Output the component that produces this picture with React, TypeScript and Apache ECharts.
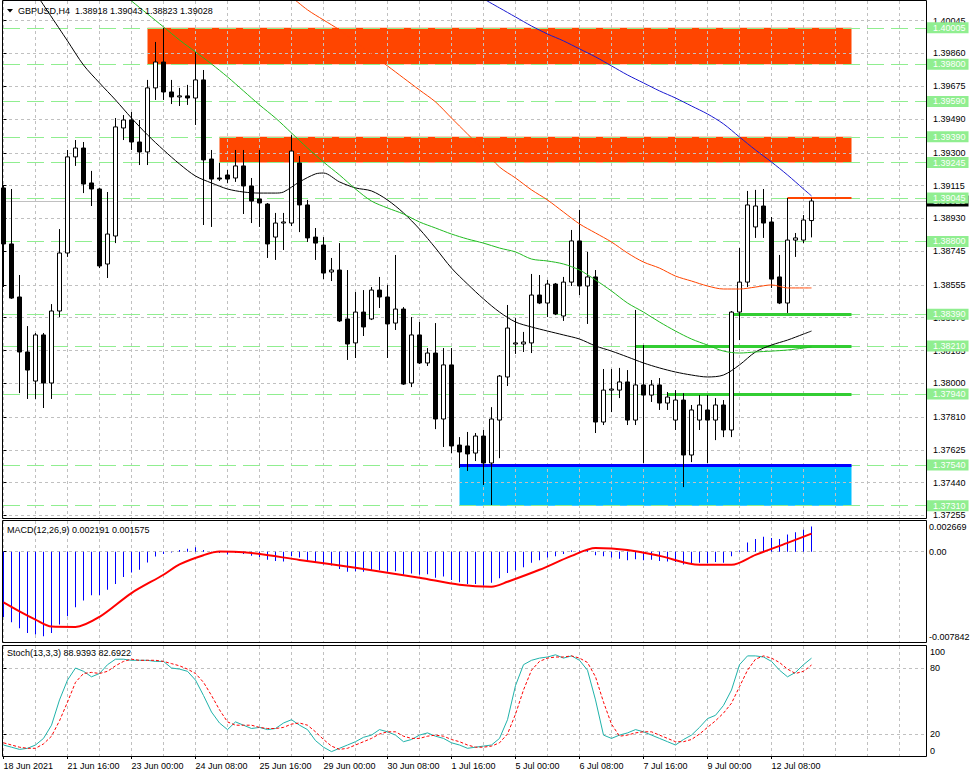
import React, { useEffect, useRef } from 'react';
import * as echarts from 'echarts';

const FONT = '"Liberation Sans", Arial, sans-serif';
const symbolName = 'GBPUSD,H4';

// [open, close, low, high] per H4 candle, index 0 = 18 Jun 08:00
const candles: number[][] = [
  [1.39102, 1.38786, 1.38543, 1.39119], [1.38786, 1.38481, 1.38476, 1.39096], [1.38487, 1.38177, 1.37945, 1.38611], [1.38177, 1.38075, 1.37912, 1.38323],
  [1.38013, 1.38273, 1.37912, 1.38284], [1.38273, 1.38002, 1.37861, 1.38284], [1.38002, 1.38408, 1.37912, 1.38447], [1.38408, 1.38735, 1.38374, 1.38870],
  [1.38735, 1.39277, 1.38713, 1.39316], [1.39277, 1.39327, 1.39226, 1.39372], [1.39327, 1.39124, 1.39073, 1.39361], [1.39130, 1.39096, 1.39000, 1.39198],
  [1.39096, 1.38662, 1.38650, 1.39102], [1.38673, 1.38842, 1.38594, 1.39079], [1.38831, 1.39446, 1.38791, 1.39496], [1.39440, 1.39485, 1.39372, 1.39513],
  [1.39485, 1.39361, 1.39316, 1.39530], [1.39361, 1.39305, 1.39231, 1.39485], [1.39305, 1.39666, 1.39231, 1.39711], [1.39666, 1.39812, 1.39598, 1.39925],
  [1.39812, 1.39643, 1.39598, 1.40004], [1.39643, 1.39615, 1.39575, 1.39711], [1.39615, 1.39621, 1.39564, 1.39666], [1.39621, 1.39609, 1.39570, 1.39683],
  [1.39609, 1.39711, 1.39457, 1.39869], [1.39711, 1.39260, 1.38893, 1.39767], [1.39265, 1.39152, 1.38882, 1.39316], [1.39158, 1.39152, 1.39141, 1.39243],
  [1.39175, 1.39152, 1.39130, 1.39203], [1.39158, 1.39226, 1.39136, 1.39316], [1.39226, 1.39113, 1.38955, 1.39316], [1.39113, 1.39028, 1.38904, 1.39158],
  [1.39040, 1.39017, 1.38882, 1.39316], [1.39011, 1.38786, 1.38707, 1.39017], [1.38825, 1.38904, 1.38696, 1.38961], [1.38904, 1.38910, 1.38752, 1.38961],
  [1.38904, 1.39310, 1.38887, 1.39400], [1.39243, 1.39006, 1.38853, 1.39282], [1.39006, 1.38820, 1.38797, 1.39034], [1.38825, 1.38791, 1.38696, 1.38876],
  [1.38780, 1.38622, 1.38588, 1.38825], [1.38628, 1.38639, 1.38577, 1.38707], [1.38639, 1.38352, 1.38346, 1.38791], [1.38363, 1.38222, 1.38132, 1.38639],
  [1.38228, 1.38402, 1.38143, 1.38515], [1.38402, 1.38318, 1.38267, 1.38526], [1.38363, 1.38526, 1.38357, 1.38543], [1.38526, 1.38487, 1.38425, 1.38600],
  [1.38487, 1.38335, 1.38143, 1.38555], [1.38340, 1.38419, 1.38301, 1.38724], [1.38419, 1.37996, 1.37991, 1.38430], [1.38002, 1.38273, 1.37979, 1.38374],
  [1.38273, 1.38115, 1.38109, 1.38346], [1.38115, 1.38171, 1.38098, 1.38199], [1.38171, 1.37799, 1.37742, 1.38340], [1.37799, 1.38104, 1.37641, 1.38199],
  [1.38104, 1.37647, 1.37607, 1.38199], [1.37652, 1.37613, 1.37523, 1.37697], [1.37647, 1.37602, 1.37506, 1.37726], [1.37607, 1.37703, 1.37562, 1.37720],
  [1.37703, 1.37551, 1.37427, 1.37737], [1.37551, 1.37799, 1.37314, 1.37866], [1.37793, 1.38041, 1.37578, 1.38047], [1.38036, 1.38312, 1.37985, 1.38442],
  [1.38222, 1.38228, 1.38166, 1.38368], [1.38222, 1.38233, 1.38177, 1.38290], [1.38228, 1.38498, 1.38171, 1.38617], [1.38498, 1.38453, 1.38447, 1.38611],
  [1.38453, 1.38560, 1.38374, 1.38583], [1.38560, 1.38391, 1.38385, 1.38566], [1.38380, 1.38571, 1.38352, 1.38600], [1.38571, 1.38803, 1.38549, 1.38865],
  [1.38803, 1.38549, 1.38498, 1.38978], [1.38549, 1.38600, 1.38335, 1.38741], [1.38600, 1.37782, 1.37720, 1.38639], [1.37782, 1.37962, 1.37765, 1.38081],
  [1.37962, 1.37968, 1.37838, 1.38081], [1.37962, 1.38008, 1.37917, 1.38087], [1.38008, 1.37793, 1.37765, 1.38075], [1.37793, 1.37991, 1.37765, 1.38414],
  [1.37991, 1.37934, 1.37551, 1.38216], [1.37934, 1.37991, 1.37895, 1.38019], [1.37991, 1.37889, 1.37850, 1.38030], [1.37889, 1.37923, 1.37850, 1.37951],
  [1.37793, 1.37906, 1.37737, 1.37962], [1.37906, 1.37596, 1.37415, 1.37945], [1.37596, 1.37850, 1.37556, 1.37878], [1.37793, 1.37878, 1.37737, 1.37934],
  [1.37850, 1.37793, 1.37551, 1.37934], [1.37793, 1.37878, 1.37680, 1.37917], [1.37878, 1.37737, 1.37697, 1.37906], [1.37737, 1.38402, 1.37697, 1.38408],
  [1.38402, 1.38571, 1.38244, 1.38763], [1.38571, 1.39006, 1.38543, 1.39085], [1.38882, 1.39000, 1.38820, 1.39091], [1.39000, 1.38904, 1.38820, 1.39096],
  [1.38910, 1.38588, 1.38538, 1.38938], [1.38600, 1.38453, 1.38447, 1.38724], [1.38453, 1.38808, 1.38397, 1.39045], [1.38808, 1.38820, 1.38713, 1.38848],
  [1.38808, 1.38921, 1.38791, 1.38949], [1.38918, 1.39028, 1.38823, 1.39043],
];

// moving averages: [candle index, price]
const maBlack = [[4,1.40201],[8,1.39931],[10,1.39795],[12,1.39694],[14,1.39598],[16,1.39496],[18,1.39401],[20,1.39316],[22,1.39237],[24,1.39169],[26,1.39130],[28,1.39096],[30,1.39079],[32,1.39073],[34,1.39073],[35,1.39079],[37,1.39136],[39,1.39181],[40,1.39186],[42,1.39136],[44,1.39102],[46,1.39085],[48,1.39034],[50,1.38961],[52,1.38870],[54,1.38763],[56,1.38650],[58,1.38560],[60,1.38476],[62,1.38402],[64,1.38346],[66,1.38318],[68,1.38295],[70,1.38273],[72,1.38250],[74,1.38211],[76,1.38182],[78,1.38149],[80,1.38115],[82,1.38087],[84,1.38064],[86,1.38047],[88,1.38036],[90,1.38047],[92,1.38104],[94,1.38177],[96,1.38216],[98,1.38244],[100,1.38278],[101,1.38295]];
const maGreen = [[14,1.40230],[16,1.40156],[18,1.40083],[20,1.40010],[22,1.39936],[24,1.39869],[26,1.39801],[28,1.39728],[30,1.39649],[32,1.39570],[34,1.39496],[36,1.39412],[38,1.39327],[40,1.39248],[42,1.39175],[44,1.39096],[46,1.39028],[48,1.38989],[50,1.38955],[52,1.38910],[54,1.38876],[56,1.38842],[58,1.38814],[60,1.38791],[62,1.38763],[64,1.38741],[66,1.38701],[68,1.38690],[70,1.38673],[72,1.38639],[74,1.38583],[76,1.38521],[78,1.38453],[80,1.38402],[82,1.38346],[84,1.38295],[86,1.38250],[88,1.38216],[90,1.38182],[92,1.38171],[94,1.38177],[96,1.38182],[98,1.38188],[100,1.38199],[101,1.38205]];
const maRed = [[36,1.40179],[38,1.40106],[40,1.40049],[42,1.39993],[44,1.39925],[46,1.39857],[48,1.39790],[50,1.39722],[52,1.39654],[54,1.39587],[56,1.39496],[58,1.39406],[60,1.39316],[62,1.39220],[64,1.39158],[66,1.39091],[68,1.39034],[70,1.38966],[72,1.38899],[74,1.38848],[76,1.38797],[78,1.38735],[80,1.38684],[82,1.38650],[84,1.38605],[86,1.38577],[88,1.38549],[90,1.38532],[92,1.38532],[94,1.38543],[96,1.38555],[98,1.38538],[100,1.38538],[101,1.38538]];
const maBlue = [[60,1.40168],[62,1.40117],[64,1.40066],[66,1.40015],[68,1.39970],[70,1.39931],[72,1.39886],[74,1.39841],[76,1.39790],[78,1.39739],[80,1.39694],[82,1.39649],[84,1.39609],[86,1.39564],[88,1.39519],[90,1.39463],[92,1.39389],[94,1.39316],[96,1.39248],[98,1.39175],[100,1.39096],[101,1.39057]];

// price axis
const yTicks = [1.37255,1.37440,1.37625,1.37810,1.38000,1.38185,1.38370,1.38555,1.38745,1.38930,1.39115,1.39300,1.39490,1.39675,1.39860,1.40045];
const levels = [1.40005,1.39800,1.39590,1.39390,1.39245,1.39045,1.38800,1.38390,1.38210,1.37940,1.37540,1.37310];
const bidPrice = 1.39028;
const priceMin = 1.37238;
const priceMax = 1.40156;

// objects: [fromIndex, toIndex, top, bottom] / [fromIndex, toIndex, price]
const orangeZones = [[18,106,1.40005,1.39800],[27,106,1.39390,1.39245]];
const blueZone = [57,106,1.37540,1.37310];
const blueSeg = [57,106,1.37540];
const greenSegs = [[90.75,106,1.38390],[79,106,1.38210],[83,106,1.37940]];
const orangeSeg = [98,106,1.39045];

// time axis
const xLabels = ['18 Jun 2021','21 Jun 16:00','23 Jun 00:00','24 Jun 08:00','25 Jun 16:00','29 Jun 00:00','30 Jun 08:00','1 Jul 16:00','5 Jul 00:00','6 Jul 08:00','7 Jul 16:00','9 Jul 00:00','12 Jul 08:00'];
const xLabelIdx = [0,8,16,24,32,40,48,56,64,72,80,88,96];
const gridCols = [0,4,8,12,16,20,24,28,32,36,40,44,48,52,56,60,64,68,72,76,80,84,88,92,96,100,104,108,112];

// MACD(12,26,9)
const macdMain = [
  -0.00566,-0.00613,-0.00665,-0.00705,-0.00719,-0.00734,-0.00705,-0.00633,-0.00561,-0.00483,
  -0.00423,-0.00379,-0.00375,-0.0033,-0.00281,-0.0022,-0.0018,-0.00157,-0.00094,-0.00042,
  -0.00019,-0.00007,0.00016,0.00025,0.00039,0.00016,-0.00004,-0.0001,-0.00025,-0.00012,
  -0.0002,-0.00035,-0.00045,-0.0007,-0.0008,-0.00085,-0.0004,-0.0005,-0.00075,-0.0009,
  -0.0011,-0.0012,-0.0015,-0.00175,-0.0017,-0.00175,-0.0016,-0.0016,-0.00175,-0.0017,
  -0.002,-0.0019,-0.002,-0.00195,-0.00225,-0.00215,-0.00245,-0.00265,-0.0028,-0.0028,
  -0.00295,-0.0027,-0.0023,-0.00185,-0.0016,-0.00135,-0.00095,-0.00075,-0.0005,-0.0004,
  -0.0002,0.0001,0.0001,0.0002,-0.0003,-0.0004,-0.0005,-0.0006,-0.00075,-0.00065,
  -0.00075,-0.0007,-0.0008,-0.00085,-0.0009,-0.0011,-0.001,-0.00095,-0.001,-0.0009,
  -0.00095,-0.0004,0.0001,0.0008,0.0011,0.0013,0.0012,0.0011,0.0015,0.0017,
  0.0019,0.002191,
];
const macdSignal = [[0,-0.0044],[2,-0.00518],[4,-0.0059],[6,-0.0065],[9,-0.00653],[12,-0.00566],[16,-0.00359],[20,-0.002],[22,-0.0011],[25,-0.0003],[27,0.00001],[30,-0.00004],[37,-0.00071],[44,-0.0014],[52,-0.00226],[57,-0.00287],[61,-0.00304],[63,-0.00261],[67,-0.00157],[71,-0.00036],[74,0.00033],[78,0.00016],[82,-0.00036],[87,-0.00114],[91,-0.00114],[94,-0.00027],[98,0.00077],[101,0.001575]];
const macdAxisMax = 0.002669;
const macdAxisMin = -0.007842;

// Stochastic(13,3,3)
const stochMain = [
  10,8,6,7,10,16,28,51,69,80, 77,72,75,83,88,88,87,87,87,86,
  86,80,79,77,69,55,40,30,24,31, 28,25,26,24,25,30,33,28,24,14,
  8,4,7,10,13,17,19,24,22,19, 13,15,19,21,18,16,12,10,7,8,
  9,10,16,33,64,83,87,89,90,92, 89,91,87,78,51,19,16,19,21,24,
  22,19,16,13,10,15,19,26,34,37, 46,60,83,91,91,90,86,78,72,76,
  83,88.9393,
];
const stochSignal = [
  12,10,8,7,7,11,18,32,49,67, 75,76,75,77,82,86,88,87,87,87,
  86,84,82,79,75,67,55,42,31,28, 28,28,26,25,25,26,29,30,28,22,
  15,9,6,7,10,13,16,20,22,22, 18,16,16,18,19,18,15,13,10,8,
  8,9,12,20,38,60,78,86,89,90, 90,91,89,85,72,49,29,18,19,21,
  22,22,19,16,13,13,15,20,26,32, 39,48,63,78,88,91,89,85,79,75,
  77,82.6922,
];
const stochLevels = [20, 80];

export default function App() {
  const ref = useRef<HTMLDivElement>(null);
  useEffect(() => {
    if (!ref.current) return;
    const chart = echarts.init(ref.current, null, { renderer: 'svg' });
    const X_MIN = -0.0625;
    const X_MAX = 115.3125;
    const font = { fontFamily: FONT, fontSize: 9, color: '#000' };
    const grey = { show: true, lineStyle: { color: '#c0c0c0', width: 1, type: [3, 3] } };
    const xBase = (g: number) => ({
      type: 'value', gridIndex: g, min: X_MIN, max: X_MAX,
      axisLine: { show: false }, axisLabel: { show: false },
      axisTick: { show: false, customValues: gridCols },
      splitLine: grey,
    });
    const last = candles[candles.length - 1];
    const header = `${symbolName}  ${last[0].toFixed(5)} ${last[3].toFixed(5)} ${last[2].toFixed(5)} ${last[1].toFixed(5)}`;
    const macdHeader = `MACD(12,26,9) ${macdMain[macdMain.length - 1].toFixed(6)} ${macdSignal[macdSignal.length - 1][1].toFixed(6)}`;
    const stochHeader = `Stoch(13,3,3) ${stochMain[stochMain.length - 1].toFixed(4)} ${stochSignal[stochSignal.length - 1].toFixed(4)}`;
    const macdLabelVals = [macdAxisMax - 0.00052, 0, macdAxisMin + 0.00046];
    const stochLabelVals = [94.3, 80, 20, 4.7];

    const seg = (s: number[], color: string, width: number) => [
      { coord: [s[0], s[2]], lineStyle: { color, width, type: 'solid' } },
      { coord: [s[1], s[2]] },
    ];

    const option: any = {
      animation: false,
      color: ['#0000ff'],
      backgroundColor: '#fff',
      textStyle: { fontFamily: FONT },
      grid: [
        { left: 3, top: 1, width: 923, height: 517.5, outerBoundsMode: 'none', containLabel: false },
        { left: 3, top: 521, width: 923, height: 121, outerBoundsMode: 'none', containLabel: false },
        { left: 3, top: 646, width: 923, height: 110, outerBoundsMode: 'none', containLabel: false },
      ],
      xAxis: [
        xBase(0), xBase(1), xBase(2),
        {
          type: 'value', gridIndex: 2, min: X_MIN, max: X_MAX, position: 'bottom',
          axisLine: { show: false },
          axisTick: { show: true, length: 3, customValues: xLabelIdx, lineStyle: { color: '#000' } },
          axisLabel: { ...font, customValues: xLabelIdx, align: 'left', margin: 5,
            formatter: (v: number) => xLabels[xLabelIdx.indexOf(Math.round(v))] ?? '' },
          splitLine: { show: false },
        },
      ],
      yAxis: [
        {
          type: 'value', gridIndex: 0, position: 'right', min: priceMin, max: priceMax, z: 1,
          axisLine: { show: false },
          axisTick: { show: true, length: 3, customValues: yTicks, lineStyle: { color: '#000' } },
          axisLabel: { ...font, customValues: yTicks, margin: 7, formatter: (v: number) => v.toFixed(5) },
          splitLine: grey,
        },
        {
          type: 'value', gridIndex: 0, position: 'right', min: priceMin, max: priceMax, z: 3,
          axisLine: { show: false },
          axisTick: { show: false, customValues: levels },
          axisLabel: { ...font, color: '#fff', customValues: levels, margin: 1, backgroundColor: '#90ee90',
            padding: [1, 3, 0, 6], lineHeight: 10, formatter: (v: number) => v.toFixed(5) },
          splitLine: { show: true, lineStyle: { color: '#90ee90', width: 1, type: [17, 7] } },
        },
        {
          type: 'value', gridIndex: 0, position: 'right', min: priceMin, max: priceMax, z: 2,
          axisLine: { show: false },
          axisTick: { show: false, customValues: [bidPrice] },
          axisLabel: { ...font, color: '#fff', customValues: [bidPrice], margin: 1, backgroundColor: '#000',
            padding: [1, 3, 0, 6], lineHeight: 10, formatter: (v: number) => v.toFixed(5) },
          splitLine: { show: true, lineStyle: { color: '#c0c0c0', width: 1, type: 'solid' } },
        },
        {
          type: 'value', gridIndex: 1, position: 'right', min: macdAxisMin, max: macdAxisMax, z: 1,
          axisLine: { show: false },
          axisTick: { show: true, length: 3, customValues: [0], lineStyle: { color: '#000' } },
          axisLabel: { ...font, customValues: macdLabelVals, margin: 3,
            formatter: (v: number) => (v > 0.001 ? macdAxisMax.toFixed(6) : v < -0.003 ? macdAxisMin.toFixed(6) : '0.00') },
          splitLine: grey,
        },
        {
          type: 'value', gridIndex: 2, position: 'right', min: 0, max: 100, z: 1,
          axisLine: { show: false },
          axisTick: { show: true, length: 3, customValues: stochLevels, lineStyle: { color: '#000' } },
          axisLabel: { ...font, customValues: stochLabelVals, margin: 4,
            formatter: (v: number) => (v > 90 ? '100' : v < 10 ? '0' : String(Math.round(v))) },
          splitLine: grey,
        },
      ],
      series: [
        {
          type: 'line', xAxisIndex: 0, yAxisIndex: 0, data: [], silent: true, z: -1,
          markArea: {
            silent: true, z: -1, label: { show: false },
            data: [
              ...orangeZones.map((r) => [
                { coord: [r[0], r[2]], itemStyle: { color: '#ff4500', opacity: 1 } },
                { coord: [r[1], r[3]] },
              ]),
              [
                { coord: [blueZone[0], blueZone[2]], itemStyle: { color: '#00bfff', opacity: 1 } },
                { coord: [blueZone[1], blueZone[3]] },
              ],
            ],
          },
        },
        {
          type: 'line', xAxisIndex: 0, yAxisIndex: 0, data: [], silent: true, z: 5,
          markLine: {
            silent: true, z: 5, symbol: ['none', 'none'], label: { show: false },
            data: [
              seg(blueSeg, '#0000ff', 3),
              ...greenSegs.map((s) => seg(s, '#32cd32', 3)),
              seg(orangeSeg, '#ff4500', 2),
            ],
          },
        },
        {
          type: 'candlestick', xAxisIndex: 0, yAxisIndex: 0, z: 10, barWidth: 4,
          data: candles.map((c, i) => [i, c[0], c[1], c[2], c[3]]),
          itemStyle: { color: '#fff', color0: '#000', borderColor: '#000', borderColor0: '#000', borderColorDoji: '#000', borderWidth: 1 },
        },
        { type: 'line', xAxisIndex: 0, yAxisIndex: 0, z: 11, data: maBlack, symbol: 'none', smooth: 0.3, lineStyle: { color: '#000', width: 1 } },
        { type: 'line', xAxisIndex: 0, yAxisIndex: 0, z: 11, data: maGreen, symbol: 'none', smooth: 0.3, lineStyle: { color: '#22bb22', width: 1 } },
        { type: 'line', xAxisIndex: 0, yAxisIndex: 0, z: 11, data: maRed, symbol: 'none', smooth: 0.3, lineStyle: { color: '#ff4500', width: 1 } },
        { type: 'line', xAxisIndex: 0, yAxisIndex: 0, z: 11, data: maBlue, symbol: 'none', smooth: 0.3, lineStyle: { color: '#1a1ad0', width: 1 } },
        {
          type: 'bar', xAxisIndex: 1, yAxisIndex: 3, z: 10, barWidth: 1, silent: true,
          data: macdMain.map((v, i) => ({ value: [i, v], itemStyle: { color: '#0000ff' } })),
          itemStyle: { color: '#0000ff', borderWidth: 0 },
        },
        { type: 'line', xAxisIndex: 1, yAxisIndex: 3, z: 11, data: macdSignal, symbol: 'none', smooth: 0.3, lineStyle: { color: '#ff0000', width: 2 } },
        { type: 'line', xAxisIndex: 2, yAxisIndex: 4, z: 11, data: stochMain.map((v, i) => [i, v]), symbol: 'none', lineStyle: { color: '#20b2aa', width: 1 } },
        { type: 'line', xAxisIndex: 2, yAxisIndex: 4, z: 11, data: stochSignal.map((v, i) => [i, v]), symbol: 'none', lineStyle: { color: '#ff0000', width: 1, type: [3, 2] } },
      ],
      graphic: [
        { type: 'rect', z: 100, silent: true, shape: { x: 2.5, y: 0.5, width: 924, height: 518 }, style: { fill: 'none', stroke: '#000', lineWidth: 1 } },
        { type: 'rect', z: 100, silent: true, shape: { x: 2.5, y: 520.5, width: 924, height: 122 }, style: { fill: 'none', stroke: '#000', lineWidth: 1 } },
        { type: 'rect', z: 100, silent: true, shape: { x: 2.5, y: 645.5, width: 924, height: 111 }, style: { fill: 'none', stroke: '#000', lineWidth: 1 } },
        { type: 'polygon', z: 100, silent: true, shape: { points: [[7, 9], [13, 9], [10, 12.5]] }, style: { fill: '#000' } },
        { type: 'text', z: 100, silent: true, x: 18, y: 11, style: { text: header, fill: '#000', fontFamily: FONT, fontSize: 9, verticalAlign: 'middle' } },
        { type: 'text', z: 100, silent: true, x: 7, y: 530, style: { text: macdHeader, fill: '#000', fontFamily: FONT, fontSize: 9, verticalAlign: 'middle' } },
        { type: 'text', z: 100, silent: true, x: 7, y: 653, style: { text: stochHeader, fill: '#000', fontFamily: FONT, fontSize: 9, verticalAlign: 'middle' } },
      ],
    };
    chart.setOption(option);
    return () => chart.dispose();
  }, []);
  return <div ref={ref} style={{ position: 'fixed', left: 0, top: 0, width: 972, height: 778, background: '#fff' }} />;
}
